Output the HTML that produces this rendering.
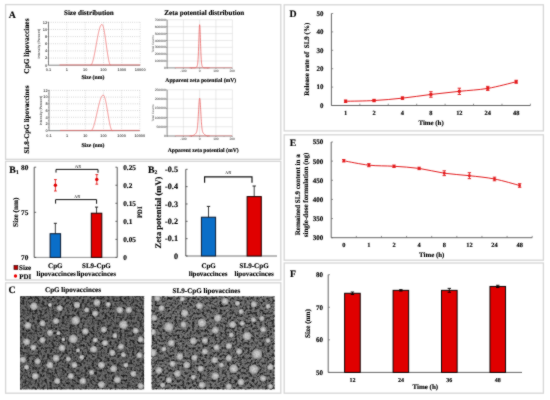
<!DOCTYPE html>
<html><head><meta charset="utf-8"><style>
html,body{margin:0;padding:0;background:#fff;}
body{width:550px;height:400px;overflow:hidden;}
svg{display:block;will-change:transform;text-rendering:geometricPrecision;}
</style></head><body>
<svg width="550" height="400" viewBox="0 0 550 400">
<defs><filter id="soften" filterUnits="userSpaceOnUse" x="0" y="0" width="550" height="400" color-interpolation-filters="sRGB"><feConvolveMatrix order="3" kernelMatrix="1 2 1 2 20 2 1 2 1" edgeMode="duplicate"/></filter></defs>
<g filter="url(#soften)">
<rect width="550" height="400" fill="#fff"/>
<defs><filter id="noiseA" color-interpolation-filters="sRGB" x="0" y="0" width="100%" height="100%"><feTurbulence type="fractalNoise" baseFrequency="0.4" numOctaves="3" seed="3"/><feColorMatrix type="matrix" values="0 0 0 0 0.1  0 0 0 0 0.1  0 0 0 0 0.1  -3.4 0 0 0 1.95"/></filter><filter id="noiseB" color-interpolation-filters="sRGB" x="0" y="0" width="100%" height="100%"><feTurbulence type="fractalNoise" baseFrequency="0.4" numOctaves="3" seed="11"/><feColorMatrix type="matrix" values="0 0 0 0 0.1  0 0 0 0 0.1  0 0 0 0 0.1  -3.4 0 0 0 1.95"/></filter><filter id="noise2" color-interpolation-filters="sRGB" x="0" y="0" width="100%" height="100%"><feTurbulence type="fractalNoise" baseFrequency="0.6" numOctaves="1" seed="7"/><feColorMatrix type="matrix" values="1.5 0 0 0 -0.4  1.5 0 0 0 -0.4  1.5 0 0 0 -0.4  0 0 0 0 1"/></filter><filter id="soft" x="-20%" y="-20%" width="140%" height="140%"><feGaussianBlur stdDeviation="0.35"/></filter><radialGradient id="blob"><stop offset="0" stop-color="#e2e2e2"/><stop offset="0.45" stop-color="#cfcfcf"/><stop offset="0.78" stop-color="#ababab" stop-opacity="0.88"/><stop offset="1" stop-color="#888" stop-opacity="0"/></radialGradient></defs>
<rect x="5.60" y="4.60" width="275.20" height="154.70" fill="none" stroke="#d6d6d6" stroke-width="1.3" />
<rect x="5.60" y="161.30" width="275.20" height="118.70" fill="none" stroke="#d6d6d6" stroke-width="1.3" />
<rect x="5.60" y="282.80" width="275.20" height="110.40" fill="none" stroke="#d6d6d6" stroke-width="1.3" />
<rect x="284.20" y="4.80" width="259.20" height="126.10" fill="none" stroke="#d6d6d6" stroke-width="1.3" />
<rect x="284.20" y="134.80" width="259.20" height="125.40" fill="none" stroke="#d6d6d6" stroke-width="1.3" />
<rect x="284.20" y="263.00" width="259.20" height="130.20" fill="none" stroke="#d6d6d6" stroke-width="1.3" />
<text x="8.80" y="17.60" font-family="'Liberation Serif', serif" font-size="9.8" font-weight="bold" text-anchor="start" fill="#000"  stroke="#000" stroke-width="0.14">A</text>
<text x="88.90" y="15.31" font-family="'Liberation Serif', serif" font-size="7.1" font-weight="bold" text-anchor="middle" fill="#000"  stroke="#000" stroke-width="0.14">Size distribution</text>
<text x="204.30" y="14.81" font-family="'Liberation Serif', serif" font-size="7.1" font-weight="bold" text-anchor="middle" fill="#000"  stroke="#000" stroke-width="0.14">Zeta potential distribution</text>
<text transform="translate(26.50,46.10) rotate(-90)" x="0" y="2.52" font-family="'Liberation Serif', serif" font-size="7.4" font-weight="bold" text-anchor="middle" fill="#000"  stroke="#000" stroke-width="0.14">CpG lipovaccines</text>
<text transform="translate(26.70,119.50) rotate(-90)" x="0" y="2.43" font-family="'Liberation Serif', serif" font-size="7.15" font-weight="bold" text-anchor="middle" fill="#000"  stroke="#000" stroke-width="0.14">SL8-CpG lipovaccines</text>
<line x1="66.84" y1="22.30" x2="66.84" y2="65.20" stroke="#c0c0c0" stroke-width="0.6" stroke-dasharray="0.9,1.3"/>
<line x1="85.18" y1="22.30" x2="85.18" y2="65.20" stroke="#c0c0c0" stroke-width="0.6" stroke-dasharray="0.9,1.3"/>
<line x1="103.52" y1="22.30" x2="103.52" y2="65.20" stroke="#c0c0c0" stroke-width="0.6" stroke-dasharray="0.9,1.3"/>
<line x1="121.86" y1="22.30" x2="121.86" y2="65.20" stroke="#c0c0c0" stroke-width="0.6" stroke-dasharray="0.9,1.3"/>
<line x1="140.20" y1="22.30" x2="140.20" y2="65.20" stroke="#c0c0c0" stroke-width="0.6" stroke-dasharray="0.9,1.3"/>
<line x1="48.50" y1="58.05" x2="140.20" y2="58.05" stroke="#b4b4b4" stroke-width="0.6" stroke-dasharray="0.9,1.3"/>
<line x1="48.50" y1="50.90" x2="140.20" y2="50.90" stroke="#b4b4b4" stroke-width="0.6" stroke-dasharray="0.9,1.3"/>
<line x1="48.50" y1="43.75" x2="140.20" y2="43.75" stroke="#b4b4b4" stroke-width="0.6" stroke-dasharray="0.9,1.3"/>
<line x1="48.50" y1="36.60" x2="140.20" y2="36.60" stroke="#b4b4b4" stroke-width="0.6" stroke-dasharray="0.9,1.3"/>
<line x1="48.50" y1="29.45" x2="140.20" y2="29.45" stroke="#b4b4b4" stroke-width="0.6" stroke-dasharray="0.9,1.3"/>
<line x1="48.50" y1="22.30" x2="140.20" y2="22.30" stroke="#b4b4b4" stroke-width="0.6" stroke-dasharray="0.9,1.3"/>
<line x1="48.50" y1="21.80" x2="48.50" y2="65.20" stroke="#666" stroke-width="0.8" />
<line x1="48.50" y1="65.20" x2="140.20" y2="65.20" stroke="#666" stroke-width="0.8" />
<line x1="47.30" y1="65.20" x2="48.50" y2="65.20" stroke="#666" stroke-width="0.5" />
<line x1="47.80" y1="61.62" x2="48.50" y2="61.62" stroke="#666" stroke-width="0.5" />
<line x1="47.30" y1="58.05" x2="48.50" y2="58.05" stroke="#666" stroke-width="0.5" />
<line x1="47.80" y1="54.48" x2="48.50" y2="54.48" stroke="#666" stroke-width="0.5" />
<line x1="47.30" y1="50.90" x2="48.50" y2="50.90" stroke="#666" stroke-width="0.5" />
<line x1="47.80" y1="47.33" x2="48.50" y2="47.33" stroke="#666" stroke-width="0.5" />
<line x1="47.30" y1="43.75" x2="48.50" y2="43.75" stroke="#666" stroke-width="0.5" />
<line x1="47.80" y1="40.17" x2="48.50" y2="40.17" stroke="#666" stroke-width="0.5" />
<line x1="47.30" y1="36.60" x2="48.50" y2="36.60" stroke="#666" stroke-width="0.5" />
<line x1="47.80" y1="33.02" x2="48.50" y2="33.02" stroke="#666" stroke-width="0.5" />
<line x1="47.30" y1="29.45" x2="48.50" y2="29.45" stroke="#666" stroke-width="0.5" />
<line x1="47.80" y1="25.87" x2="48.50" y2="25.87" stroke="#666" stroke-width="0.5" />
<line x1="47.30" y1="22.30" x2="48.50" y2="22.30" stroke="#666" stroke-width="0.5" />
<text x="47.20" y="66.53" font-family="'Liberation Sans', sans-serif" font-size="3.9" font-weight="bold" text-anchor="end" fill="#555" >0</text>
<text x="47.20" y="59.38" font-family="'Liberation Sans', sans-serif" font-size="3.9" font-weight="bold" text-anchor="end" fill="#555" >2</text>
<text x="47.20" y="52.23" font-family="'Liberation Sans', sans-serif" font-size="3.9" font-weight="bold" text-anchor="end" fill="#555" >4</text>
<text x="47.20" y="45.08" font-family="'Liberation Sans', sans-serif" font-size="3.9" font-weight="bold" text-anchor="end" fill="#555" >6</text>
<text x="47.20" y="37.93" font-family="'Liberation Sans', sans-serif" font-size="3.9" font-weight="bold" text-anchor="end" fill="#555" >8</text>
<text x="47.20" y="30.78" font-family="'Liberation Sans', sans-serif" font-size="3.9" font-weight="bold" text-anchor="end" fill="#555" >10</text>
<text x="47.20" y="23.63" font-family="'Liberation Sans', sans-serif" font-size="3.9" font-weight="bold" text-anchor="end" fill="#555" >12</text>
<text x="48.50" y="71.23" font-family="'Liberation Sans', sans-serif" font-size="3.9" font-weight="bold" text-anchor="middle" fill="#555" >0.1</text>
<text x="66.84" y="71.23" font-family="'Liberation Sans', sans-serif" font-size="3.9" font-weight="bold" text-anchor="middle" fill="#555" >1</text>
<text x="85.18" y="71.23" font-family="'Liberation Sans', sans-serif" font-size="3.9" font-weight="bold" text-anchor="middle" fill="#555" >10</text>
<text x="103.52" y="71.23" font-family="'Liberation Sans', sans-serif" font-size="3.9" font-weight="bold" text-anchor="middle" fill="#555" >100</text>
<text x="121.86" y="71.23" font-family="'Liberation Sans', sans-serif" font-size="3.9" font-weight="bold" text-anchor="middle" fill="#555" >1000</text>
<text x="140.20" y="71.23" font-family="'Liberation Sans', sans-serif" font-size="3.9" font-weight="bold" text-anchor="middle" fill="#555" >10000</text>
<line x1="59.50" y1="64.90" x2="140.20" y2="64.90" stroke="#ec6464" stroke-width="0.7" />
<path d="M90.50,65.20 L90.60,65.19 L90.70,65.17 L90.80,65.13 L90.90,65.08 L91.00,65.01 L91.10,64.92 L91.20,64.82 L91.30,64.71 L91.40,64.58 L91.50,64.43 L91.60,64.27 L91.70,64.10 L91.80,63.91 L91.90,63.70 L92.00,63.48 L92.10,63.25 L92.20,63.00 L92.30,62.74 L92.40,62.47 L92.50,62.18 L92.60,61.88 L92.70,61.57 L92.80,61.24 L92.90,60.90 L93.00,60.55 L93.10,60.19 L93.20,59.81 L93.30,59.43 L93.40,59.03 L93.50,58.62 L93.60,58.21 L93.70,57.78 L93.80,57.34 L93.90,56.89 L94.00,56.43 L94.10,55.97 L94.20,55.49 L94.30,55.01 L94.40,54.52 L94.50,54.02 L94.60,53.52 L94.70,53.01 L94.80,52.49 L94.90,51.97 L95.00,51.44 L95.10,50.91 L95.20,50.37 L95.30,49.82 L95.40,49.28 L95.50,48.73 L95.60,48.18 L95.70,47.62 L95.80,47.06 L95.90,46.51 L96.00,45.95 L96.10,45.38 L96.20,44.82 L96.30,44.26 L96.40,43.70 L96.50,43.14 L96.60,42.58 L96.70,42.02 L96.80,41.47 L96.90,40.92 L97.00,40.37 L97.10,39.82 L97.20,39.28 L97.30,38.74 L97.40,38.21 L97.50,37.68 L97.60,37.15 L97.70,36.64 L97.80,36.13 L97.90,35.62 L98.00,35.12 L98.10,34.63 L98.20,34.15 L98.30,33.68 L98.40,33.21 L98.50,32.75 L98.60,32.31 L98.70,31.87 L98.80,31.44 L98.90,31.02 L99.00,30.61 L99.10,30.22 L99.20,29.83 L99.30,29.46 L99.40,29.09 L99.50,28.74 L99.60,28.40 L99.70,28.08 L99.80,27.76 L99.90,27.46 L100.00,27.18 L100.10,26.90 L100.20,26.64 L100.30,26.39 L100.40,26.16 L100.50,25.94 L100.60,25.74 L100.70,25.55 L100.80,25.37 L100.90,25.21 L101.00,25.07 L101.10,24.94 L101.20,24.82 L101.30,24.72 L101.40,24.64 L101.50,24.57 L101.60,24.51 L101.70,24.48 L101.80,24.45 L101.90,24.44 L102.00,24.46 L102.10,24.50 L102.20,24.56 L102.30,24.65 L102.40,24.77 L102.50,24.91 L102.60,25.08 L102.70,25.27 L102.80,25.49 L102.90,25.73 L103.00,26.00 L103.10,26.29 L103.20,26.60 L103.30,26.94 L103.40,27.30 L103.50,27.68 L103.60,28.08 L103.70,28.51 L103.80,28.96 L103.90,29.42 L104.00,29.91 L104.10,30.41 L104.20,30.94 L104.30,31.48 L104.40,32.04 L104.50,32.61 L104.60,33.20 L104.70,33.81 L104.80,34.42 L104.90,35.06 L105.00,35.70 L105.10,36.36 L105.20,37.02 L105.30,37.70 L105.40,38.39 L105.50,39.08 L105.60,39.78 L105.70,40.49 L105.80,41.20 L105.90,41.92 L106.00,42.64 L106.10,43.37 L106.20,44.10 L106.30,44.82 L106.40,45.55 L106.50,46.28 L106.60,47.00 L106.70,47.72 L106.80,48.44 L106.90,49.15 L107.00,49.86 L107.10,50.56 L107.20,51.26 L107.30,51.94 L107.40,52.62 L107.50,53.29 L107.60,53.94 L107.70,54.59 L107.80,55.22 L107.90,55.84 L108.00,56.44 L108.10,57.03 L108.20,57.61 L108.30,58.17 L108.40,58.71 L108.50,59.23 L108.60,59.74 L108.70,60.22 L108.80,60.69 L108.90,61.14 L109.00,61.56 L109.10,61.97 L109.20,62.35 L109.30,62.71 L109.40,63.04 L109.50,63.36 L109.60,63.65 L109.70,63.92 L109.80,64.16 L109.90,64.37 L110.00,64.57 L110.10,64.73 L110.20,64.88 L110.30,64.99 L110.40,65.08 L110.50,65.15 L110.60,65.19 L110.70,65.20" stroke="#ee6a6a" stroke-width="0.75" fill="none" />
<text x="92.85" y="79.14" font-family="'Liberation Serif', serif" font-size="5.7" font-weight="bold" text-anchor="middle" fill="#000"  stroke="#000" stroke-width="0.14">Size (nm)</text>
<text transform="translate(38.90,43.75) rotate(-90)" x="0" y="1.16" font-family="'Liberation Sans', sans-serif" font-size="3.4" font-weight="bold" text-anchor="middle" fill="#555" >Intensity (Percent)</text>
<line x1="67.16" y1="90.40" x2="67.16" y2="130.70" stroke="#c0c0c0" stroke-width="0.6" stroke-dasharray="0.9,1.3"/>
<line x1="85.32" y1="90.40" x2="85.32" y2="130.70" stroke="#c0c0c0" stroke-width="0.6" stroke-dasharray="0.9,1.3"/>
<line x1="103.48" y1="90.40" x2="103.48" y2="130.70" stroke="#c0c0c0" stroke-width="0.6" stroke-dasharray="0.9,1.3"/>
<line x1="121.64" y1="90.40" x2="121.64" y2="130.70" stroke="#c0c0c0" stroke-width="0.6" stroke-dasharray="0.9,1.3"/>
<line x1="139.80" y1="90.40" x2="139.80" y2="130.70" stroke="#c0c0c0" stroke-width="0.6" stroke-dasharray="0.9,1.3"/>
<line x1="49.00" y1="123.98" x2="139.80" y2="123.98" stroke="#b4b4b4" stroke-width="0.6" stroke-dasharray="0.9,1.3"/>
<line x1="49.00" y1="117.27" x2="139.80" y2="117.27" stroke="#b4b4b4" stroke-width="0.6" stroke-dasharray="0.9,1.3"/>
<line x1="49.00" y1="110.55" x2="139.80" y2="110.55" stroke="#b4b4b4" stroke-width="0.6" stroke-dasharray="0.9,1.3"/>
<line x1="49.00" y1="103.83" x2="139.80" y2="103.83" stroke="#b4b4b4" stroke-width="0.6" stroke-dasharray="0.9,1.3"/>
<line x1="49.00" y1="97.12" x2="139.80" y2="97.12" stroke="#b4b4b4" stroke-width="0.6" stroke-dasharray="0.9,1.3"/>
<line x1="49.00" y1="90.40" x2="139.80" y2="90.40" stroke="#b4b4b4" stroke-width="0.6" stroke-dasharray="0.9,1.3"/>
<line x1="49.00" y1="89.90" x2="49.00" y2="130.70" stroke="#666" stroke-width="0.8" />
<line x1="49.00" y1="130.70" x2="139.80" y2="130.70" stroke="#666" stroke-width="0.8" />
<line x1="47.80" y1="130.70" x2="49.00" y2="130.70" stroke="#666" stroke-width="0.5" />
<line x1="48.30" y1="127.34" x2="49.00" y2="127.34" stroke="#666" stroke-width="0.5" />
<line x1="47.80" y1="123.98" x2="49.00" y2="123.98" stroke="#666" stroke-width="0.5" />
<line x1="48.30" y1="120.62" x2="49.00" y2="120.62" stroke="#666" stroke-width="0.5" />
<line x1="47.80" y1="117.27" x2="49.00" y2="117.27" stroke="#666" stroke-width="0.5" />
<line x1="48.30" y1="113.91" x2="49.00" y2="113.91" stroke="#666" stroke-width="0.5" />
<line x1="47.80" y1="110.55" x2="49.00" y2="110.55" stroke="#666" stroke-width="0.5" />
<line x1="48.30" y1="107.19" x2="49.00" y2="107.19" stroke="#666" stroke-width="0.5" />
<line x1="47.80" y1="103.83" x2="49.00" y2="103.83" stroke="#666" stroke-width="0.5" />
<line x1="48.30" y1="100.47" x2="49.00" y2="100.47" stroke="#666" stroke-width="0.5" />
<line x1="47.80" y1="97.12" x2="49.00" y2="97.12" stroke="#666" stroke-width="0.5" />
<line x1="48.30" y1="93.76" x2="49.00" y2="93.76" stroke="#666" stroke-width="0.5" />
<line x1="47.80" y1="90.40" x2="49.00" y2="90.40" stroke="#666" stroke-width="0.5" />
<text x="47.70" y="132.03" font-family="'Liberation Sans', sans-serif" font-size="3.9" font-weight="bold" text-anchor="end" fill="#555" >0</text>
<text x="47.70" y="125.31" font-family="'Liberation Sans', sans-serif" font-size="3.9" font-weight="bold" text-anchor="end" fill="#555" >2</text>
<text x="47.70" y="118.59" font-family="'Liberation Sans', sans-serif" font-size="3.9" font-weight="bold" text-anchor="end" fill="#555" >4</text>
<text x="47.70" y="111.88" font-family="'Liberation Sans', sans-serif" font-size="3.9" font-weight="bold" text-anchor="end" fill="#555" >6</text>
<text x="47.70" y="105.16" font-family="'Liberation Sans', sans-serif" font-size="3.9" font-weight="bold" text-anchor="end" fill="#555" >8</text>
<text x="47.70" y="98.44" font-family="'Liberation Sans', sans-serif" font-size="3.9" font-weight="bold" text-anchor="end" fill="#555" >10</text>
<text x="47.70" y="91.73" font-family="'Liberation Sans', sans-serif" font-size="3.9" font-weight="bold" text-anchor="end" fill="#555" >12</text>
<text x="49.00" y="137.23" font-family="'Liberation Sans', sans-serif" font-size="3.9" font-weight="bold" text-anchor="middle" fill="#555" >0.1</text>
<text x="67.16" y="137.23" font-family="'Liberation Sans', sans-serif" font-size="3.9" font-weight="bold" text-anchor="middle" fill="#555" >1</text>
<text x="85.32" y="137.23" font-family="'Liberation Sans', sans-serif" font-size="3.9" font-weight="bold" text-anchor="middle" fill="#555" >10</text>
<text x="103.48" y="137.23" font-family="'Liberation Sans', sans-serif" font-size="3.9" font-weight="bold" text-anchor="middle" fill="#555" >100</text>
<text x="121.64" y="137.23" font-family="'Liberation Sans', sans-serif" font-size="3.9" font-weight="bold" text-anchor="middle" fill="#555" >1000</text>
<text x="139.80" y="137.23" font-family="'Liberation Sans', sans-serif" font-size="3.9" font-weight="bold" text-anchor="middle" fill="#555" >10000</text>
<line x1="60.00" y1="130.40" x2="139.80" y2="130.40" stroke="#ec6464" stroke-width="0.7" />
<path d="M90.80,130.70 L90.90,130.69 L91.00,130.68 L91.10,130.65 L91.20,130.61 L91.30,130.56 L91.40,130.49 L91.50,130.42 L91.60,130.34 L91.70,130.24 L91.80,130.13 L91.90,130.01 L92.00,129.88 L92.10,129.74 L92.20,129.59 L92.30,129.43 L92.40,129.26 L92.50,129.07 L92.60,128.88 L92.70,128.68 L92.80,128.46 L92.90,128.24 L93.00,128.01 L93.10,127.76 L93.20,127.51 L93.30,127.25 L93.40,126.98 L93.50,126.70 L93.60,126.41 L93.70,126.11 L93.80,125.80 L93.90,125.49 L94.00,125.16 L94.10,124.83 L94.20,124.49 L94.30,124.15 L94.40,123.80 L94.50,123.44 L94.60,123.07 L94.70,122.70 L94.80,122.32 L94.90,121.93 L95.00,121.54 L95.10,121.14 L95.20,120.74 L95.30,120.33 L95.40,119.92 L95.50,119.50 L95.60,119.08 L95.70,118.66 L95.80,118.23 L95.90,117.80 L96.00,117.36 L96.10,116.92 L96.20,116.48 L96.30,116.04 L96.40,115.60 L96.50,115.15 L96.60,114.70 L96.70,114.25 L96.80,113.80 L96.90,113.35 L97.00,112.90 L97.10,112.45 L97.20,112.00 L97.30,111.55 L97.40,111.10 L97.50,110.65 L97.60,110.21 L97.70,109.76 L97.80,109.32 L97.90,108.88 L98.00,108.44 L98.10,108.00 L98.20,107.57 L98.30,107.14 L98.40,106.72 L98.50,106.30 L98.60,105.88 L98.70,105.47 L98.80,105.06 L98.90,104.66 L99.00,104.26 L99.10,103.87 L99.20,103.49 L99.30,103.11 L99.40,102.73 L99.50,102.37 L99.60,102.01 L99.70,101.65 L99.80,101.31 L99.90,100.97 L100.00,100.64 L100.10,100.31 L100.20,100.00 L100.30,99.69 L100.40,99.40 L100.50,99.11 L100.60,98.83 L100.70,98.55 L100.80,98.29 L100.90,98.04 L101.00,97.80 L101.10,97.56 L101.20,97.34 L101.30,97.12 L101.40,96.92 L101.50,96.73 L101.60,96.54 L101.70,96.37 L101.80,96.21 L101.90,96.06 L102.00,95.92 L102.10,95.79 L102.20,95.67 L102.30,95.56 L102.40,95.47 L102.50,95.38 L102.60,95.31 L102.70,95.24 L102.80,95.19 L102.90,95.15 L103.00,95.12 L103.10,95.11 L103.20,95.10 L103.30,95.11 L103.40,95.14 L103.50,95.19 L103.60,95.27 L103.70,95.36 L103.80,95.47 L103.90,95.61 L104.00,95.76 L104.10,95.94 L104.20,96.13 L104.30,96.34 L104.40,96.58 L104.50,96.83 L104.60,97.10 L104.70,97.39 L104.80,97.69 L104.90,98.02 L105.00,98.36 L105.10,98.72 L105.20,99.09 L105.30,99.49 L105.40,99.89 L105.50,100.31 L105.60,100.75 L105.70,101.20 L105.80,101.67 L105.90,102.15 L106.00,102.64 L106.10,103.14 L106.20,103.65 L106.30,104.18 L106.40,104.71 L106.50,105.26 L106.60,105.81 L106.70,106.37 L106.80,106.94 L106.90,107.52 L107.00,108.10 L107.10,108.69 L107.20,109.28 L107.30,109.88 L107.40,110.48 L107.50,111.08 L107.60,111.69 L107.70,112.29 L107.80,112.90 L107.90,113.51 L108.00,114.12 L108.10,114.72 L108.20,115.32 L108.30,115.93 L108.40,116.52 L108.50,117.12 L108.60,117.70 L108.70,118.29 L108.80,118.86 L108.90,119.43 L109.00,119.99 L109.10,120.55 L109.20,121.09 L109.30,121.62 L109.40,122.15 L109.50,122.66 L109.60,123.17 L109.70,123.66 L109.80,124.13 L109.90,124.60 L110.00,125.05 L110.10,125.49 L110.20,125.91 L110.30,126.32 L110.40,126.71 L110.50,127.08 L110.60,127.44 L110.70,127.78 L110.80,128.11 L110.90,128.42 L111.00,128.70 L111.10,128.97 L111.20,129.23 L111.30,129.46 L111.40,129.67 L111.50,129.87 L111.60,130.04 L111.70,130.19 L111.80,130.33 L111.90,130.44 L112.00,130.53 L112.10,130.61 L112.20,130.66 L112.30,130.69 L112.40,130.70" stroke="#ee6a6a" stroke-width="0.75" fill="none" />
<text x="92.90" y="147.34" font-family="'Liberation Serif', serif" font-size="5.7" font-weight="bold" text-anchor="middle" fill="#000"  stroke="#000" stroke-width="0.14">Size (nm)</text>
<text transform="translate(40.50,110.55) rotate(-90)" x="0" y="1.16" font-family="'Liberation Sans', sans-serif" font-size="3.4" font-weight="bold" text-anchor="middle" fill="#555" >Intensity (Percent)</text>
<rect x="167.10" y="19.90" width="65.10" height="48.00" fill="none" stroke="#d4d4d4" stroke-width="0.5" />
<line x1="183.38" y1="19.90" x2="183.38" y2="67.90" stroke="#d4d4d4" stroke-width="0.5" />
<line x1="199.65" y1="19.90" x2="199.65" y2="67.90" stroke="#d4d4d4" stroke-width="0.5" />
<line x1="215.92" y1="19.90" x2="215.92" y2="67.90" stroke="#d4d4d4" stroke-width="0.5" />
<line x1="167.10" y1="61.04" x2="232.20" y2="61.04" stroke="#d4d4d4" stroke-width="0.5" />
<line x1="167.10" y1="54.19" x2="232.20" y2="54.19" stroke="#d4d4d4" stroke-width="0.5" />
<line x1="167.10" y1="47.33" x2="232.20" y2="47.33" stroke="#d4d4d4" stroke-width="0.5" />
<line x1="167.10" y1="40.47" x2="232.20" y2="40.47" stroke="#d4d4d4" stroke-width="0.5" />
<line x1="167.10" y1="33.61" x2="232.20" y2="33.61" stroke="#d4d4d4" stroke-width="0.5" />
<line x1="167.10" y1="26.76" x2="232.20" y2="26.76" stroke="#d4d4d4" stroke-width="0.5" />
<line x1="167.10" y1="19.90" x2="167.10" y2="67.90" stroke="#555" stroke-width="0.6" />
<line x1="167.10" y1="67.90" x2="232.20" y2="67.90" stroke="#555" stroke-width="0.6" />
<line x1="165.90" y1="67.90" x2="167.10" y2="67.90" stroke="#555" stroke-width="0.5" />
<text x="165.80" y="69.04" font-family="'Liberation Sans', sans-serif" font-size="3.35" font-weight="normal" text-anchor="end" fill="#333" >0</text>
<line x1="165.90" y1="61.04" x2="167.10" y2="61.04" stroke="#555" stroke-width="0.5" />
<text x="165.80" y="62.18" font-family="'Liberation Sans', sans-serif" font-size="3.35" font-weight="normal" text-anchor="end" fill="#333" >100000</text>
<line x1="165.90" y1="54.19" x2="167.10" y2="54.19" stroke="#555" stroke-width="0.5" />
<text x="165.80" y="55.32" font-family="'Liberation Sans', sans-serif" font-size="3.35" font-weight="normal" text-anchor="end" fill="#333" >200000</text>
<line x1="165.90" y1="47.33" x2="167.10" y2="47.33" stroke="#555" stroke-width="0.5" />
<text x="165.80" y="48.47" font-family="'Liberation Sans', sans-serif" font-size="3.35" font-weight="normal" text-anchor="end" fill="#333" >300000</text>
<line x1="165.90" y1="40.47" x2="167.10" y2="40.47" stroke="#555" stroke-width="0.5" />
<text x="165.80" y="41.61" font-family="'Liberation Sans', sans-serif" font-size="3.35" font-weight="normal" text-anchor="end" fill="#333" >400000</text>
<line x1="165.90" y1="33.61" x2="167.10" y2="33.61" stroke="#555" stroke-width="0.5" />
<text x="165.80" y="34.75" font-family="'Liberation Sans', sans-serif" font-size="3.35" font-weight="normal" text-anchor="end" fill="#333" >500000</text>
<line x1="165.90" y1="26.76" x2="167.10" y2="26.76" stroke="#555" stroke-width="0.5" />
<text x="165.80" y="27.90" font-family="'Liberation Sans', sans-serif" font-size="3.35" font-weight="normal" text-anchor="end" fill="#333" >600000</text>
<line x1="165.90" y1="19.90" x2="167.10" y2="19.90" stroke="#555" stroke-width="0.5" />
<text x="165.80" y="21.04" font-family="'Liberation Sans', sans-serif" font-size="3.35" font-weight="normal" text-anchor="end" fill="#333" >700000</text>
<line x1="167.10" y1="67.90" x2="167.10" y2="68.90" stroke="#555" stroke-width="0.5" />
<line x1="175.24" y1="67.90" x2="175.24" y2="68.50" stroke="#555" stroke-width="0.5" />
<line x1="183.38" y1="67.90" x2="183.38" y2="68.90" stroke="#555" stroke-width="0.5" />
<line x1="191.51" y1="67.90" x2="191.51" y2="68.50" stroke="#555" stroke-width="0.5" />
<line x1="199.65" y1="67.90" x2="199.65" y2="68.90" stroke="#555" stroke-width="0.5" />
<line x1="207.79" y1="67.90" x2="207.79" y2="68.50" stroke="#555" stroke-width="0.5" />
<line x1="215.92" y1="67.90" x2="215.92" y2="68.90" stroke="#555" stroke-width="0.5" />
<line x1="224.06" y1="67.90" x2="224.06" y2="68.50" stroke="#555" stroke-width="0.5" />
<line x1="232.20" y1="67.90" x2="232.20" y2="68.90" stroke="#555" stroke-width="0.5" />
<text x="183.38" y="72.12" font-family="'Liberation Sans', sans-serif" font-size="3.3" font-weight="normal" text-anchor="middle" fill="#333" >-100</text>
<text x="199.65" y="72.12" font-family="'Liberation Sans', sans-serif" font-size="3.3" font-weight="normal" text-anchor="middle" fill="#333" >0</text>
<text x="215.92" y="72.12" font-family="'Liberation Sans', sans-serif" font-size="3.3" font-weight="normal" text-anchor="middle" fill="#333" >100</text>
<text x="232.20" y="72.12" font-family="'Liberation Sans', sans-serif" font-size="3.3" font-weight="normal" text-anchor="middle" fill="#333" >200</text>
<line x1="175.10" y1="67.60" x2="232.20" y2="67.60" stroke="#f09090" stroke-width="0.6" />
<path d="M189.65,67.90 L189.75,67.90 L189.85,67.90 L189.95,67.90 L190.05,67.90 L190.15,67.90 L190.25,67.90 L190.35,67.90 L190.45,67.90 L190.55,67.90 L190.65,67.90 L190.75,67.90 L190.85,67.90 L190.95,67.90 L191.05,67.90 L191.15,67.90 L191.25,67.90 L191.35,67.90 L191.45,67.90 L191.55,67.90 L191.65,67.90 L191.75,67.90 L191.85,67.90 L191.95,67.90 L192.05,67.90 L192.15,67.90 L192.25,67.90 L192.35,67.90 L192.45,67.90 L192.55,67.90 L192.65,67.90 L192.75,67.90 L192.85,67.90 L192.95,67.90 L193.05,67.90 L193.15,67.90 L193.25,67.90 L193.35,67.90 L193.45,67.90 L193.55,67.90 L193.65,67.90 L193.75,67.89 L193.85,67.89 L193.95,67.89 L194.05,67.89 L194.15,67.89 L194.25,67.88 L194.35,67.88 L194.45,67.87 L194.55,67.87 L194.65,67.86 L194.75,67.85 L194.85,67.84 L194.95,67.83 L195.05,67.82 L195.15,67.80 L195.25,67.78 L195.35,67.76 L195.45,67.73 L195.55,67.71 L195.65,67.67 L195.75,67.63 L195.85,67.59 L195.95,67.54 L196.05,67.49 L196.15,67.42 L196.25,67.35 L196.35,67.27 L196.45,67.19 L196.55,67.09 L196.65,66.97 L196.75,66.84 L196.85,66.70 L196.95,66.52 L197.05,66.32 L197.15,66.08 L197.25,65.79 L197.35,65.45 L197.45,65.02 L197.55,64.50 L197.65,63.86 L197.75,63.07 L197.85,62.12 L197.95,60.98 L198.05,59.61 L198.15,58.00 L198.25,56.14 L198.35,54.02 L198.45,51.64 L198.55,49.04 L198.65,46.23 L198.75,43.28 L198.85,40.27 L198.95,37.26 L199.05,34.37 L199.15,31.69 L199.25,29.33 L199.35,27.37 L199.45,25.91 L199.55,25.01 L199.65,24.70 L199.75,25.01 L199.85,25.91 L199.95,27.37 L200.05,29.33 L200.15,31.69 L200.25,34.37 L200.35,37.26 L200.45,40.27 L200.55,43.28 L200.65,46.23 L200.75,49.04 L200.85,51.64 L200.95,54.02 L201.05,56.14 L201.15,58.00 L201.25,59.61 L201.35,60.98 L201.45,62.12 L201.55,63.07 L201.65,63.86 L201.75,64.50 L201.85,65.02 L201.95,65.45 L202.05,65.79 L202.15,66.08 L202.25,66.32 L202.35,66.52 L202.45,66.70 L202.55,66.84 L202.65,66.97 L202.75,67.09 L202.85,67.19 L202.95,67.27 L203.05,67.35 L203.15,67.42 L203.25,67.49 L203.35,67.54 L203.45,67.59 L203.55,67.63 L203.65,67.67 L203.75,67.71 L203.85,67.73 L203.95,67.76 L204.05,67.78 L204.15,67.80 L204.25,67.82 L204.35,67.83 L204.45,67.84 L204.55,67.85 L204.65,67.86 L204.75,67.87 L204.85,67.87 L204.95,67.88 L205.05,67.88 L205.15,67.89 L205.25,67.89 L205.35,67.89 L205.45,67.89 L205.55,67.89 L205.65,67.90 L205.75,67.90 L205.85,67.90 L205.95,67.90 L206.05,67.90 L206.15,67.90 L206.25,67.90 L206.35,67.90 L206.45,67.90 L206.55,67.90 L206.65,67.90 L206.75,67.90 L206.85,67.90 L206.95,67.90 L207.05,67.90 L207.15,67.90 L207.25,67.90 L207.35,67.90 L207.45,67.90 L207.55,67.90 L207.65,67.90 L207.75,67.90 L207.85,67.90 L207.95,67.90 L208.05,67.90 L208.15,67.90 L208.25,67.90 L208.35,67.90 L208.45,67.90 L208.55,67.90 L208.65,67.90 L208.75,67.90 L208.85,67.90 L208.95,67.90 L209.05,67.90 L209.15,67.90 L209.25,67.90 L209.35,67.90 L209.45,67.90 L209.55,67.90 L209.65,67.90" stroke="#ec6464" stroke-width="0.8" fill="none" />
<text x="200.80" y="81.82" font-family="'Liberation Serif', serif" font-size="5.65" font-weight="bold" text-anchor="middle" fill="#000"  stroke="#000" stroke-width="0.14">Apparent zeta potential (mV)</text>
<text transform="translate(152.70,43.90) rotate(-90)" x="0" y="1.05" font-family="'Liberation Sans', sans-serif" font-size="3.1" font-weight="normal" text-anchor="middle" fill="#555" >Total Counts</text>
<rect x="167.10" y="89.90" width="65.10" height="46.10" fill="none" stroke="#d4d4d4" stroke-width="0.5" />
<line x1="183.38" y1="89.90" x2="183.38" y2="136.00" stroke="#d4d4d4" stroke-width="0.5" />
<line x1="199.65" y1="89.90" x2="199.65" y2="136.00" stroke="#d4d4d4" stroke-width="0.5" />
<line x1="215.92" y1="89.90" x2="215.92" y2="136.00" stroke="#d4d4d4" stroke-width="0.5" />
<line x1="167.10" y1="126.78" x2="232.20" y2="126.78" stroke="#d4d4d4" stroke-width="0.5" />
<line x1="167.10" y1="117.56" x2="232.20" y2="117.56" stroke="#d4d4d4" stroke-width="0.5" />
<line x1="167.10" y1="108.34" x2="232.20" y2="108.34" stroke="#d4d4d4" stroke-width="0.5" />
<line x1="167.10" y1="99.12" x2="232.20" y2="99.12" stroke="#d4d4d4" stroke-width="0.5" />
<line x1="167.10" y1="89.90" x2="167.10" y2="136.00" stroke="#555" stroke-width="0.6" />
<line x1="167.10" y1="136.00" x2="232.20" y2="136.00" stroke="#555" stroke-width="0.6" />
<line x1="165.90" y1="136.00" x2="167.10" y2="136.00" stroke="#555" stroke-width="0.5" />
<text x="165.80" y="137.14" font-family="'Liberation Sans', sans-serif" font-size="3.35" font-weight="normal" text-anchor="end" fill="#333" >0</text>
<line x1="165.90" y1="126.78" x2="167.10" y2="126.78" stroke="#555" stroke-width="0.5" />
<text x="165.80" y="127.92" font-family="'Liberation Sans', sans-serif" font-size="3.35" font-weight="normal" text-anchor="end" fill="#333" >50000</text>
<line x1="165.90" y1="117.56" x2="167.10" y2="117.56" stroke="#555" stroke-width="0.5" />
<text x="165.80" y="118.70" font-family="'Liberation Sans', sans-serif" font-size="3.35" font-weight="normal" text-anchor="end" fill="#333" >100000</text>
<line x1="165.90" y1="108.34" x2="167.10" y2="108.34" stroke="#555" stroke-width="0.5" />
<text x="165.80" y="109.48" font-family="'Liberation Sans', sans-serif" font-size="3.35" font-weight="normal" text-anchor="end" fill="#333" >150000</text>
<line x1="165.90" y1="99.12" x2="167.10" y2="99.12" stroke="#555" stroke-width="0.5" />
<text x="165.80" y="100.26" font-family="'Liberation Sans', sans-serif" font-size="3.35" font-weight="normal" text-anchor="end" fill="#333" >200000</text>
<line x1="165.90" y1="89.90" x2="167.10" y2="89.90" stroke="#555" stroke-width="0.5" />
<text x="165.80" y="91.04" font-family="'Liberation Sans', sans-serif" font-size="3.35" font-weight="normal" text-anchor="end" fill="#333" >250000</text>
<line x1="167.10" y1="136.00" x2="167.10" y2="137.00" stroke="#555" stroke-width="0.5" />
<line x1="175.24" y1="136.00" x2="175.24" y2="136.60" stroke="#555" stroke-width="0.5" />
<line x1="183.38" y1="136.00" x2="183.38" y2="137.00" stroke="#555" stroke-width="0.5" />
<line x1="191.51" y1="136.00" x2="191.51" y2="136.60" stroke="#555" stroke-width="0.5" />
<line x1="199.65" y1="136.00" x2="199.65" y2="137.00" stroke="#555" stroke-width="0.5" />
<line x1="207.79" y1="136.00" x2="207.79" y2="136.60" stroke="#555" stroke-width="0.5" />
<line x1="215.92" y1="136.00" x2="215.92" y2="137.00" stroke="#555" stroke-width="0.5" />
<line x1="224.06" y1="136.00" x2="224.06" y2="136.60" stroke="#555" stroke-width="0.5" />
<line x1="232.20" y1="136.00" x2="232.20" y2="137.00" stroke="#555" stroke-width="0.5" />
<text x="183.38" y="140.22" font-family="'Liberation Sans', sans-serif" font-size="3.3" font-weight="normal" text-anchor="middle" fill="#333" >-100</text>
<text x="199.65" y="140.22" font-family="'Liberation Sans', sans-serif" font-size="3.3" font-weight="normal" text-anchor="middle" fill="#333" >0</text>
<text x="215.92" y="140.22" font-family="'Liberation Sans', sans-serif" font-size="3.3" font-weight="normal" text-anchor="middle" fill="#333" >100</text>
<text x="232.20" y="140.22" font-family="'Liberation Sans', sans-serif" font-size="3.3" font-weight="normal" text-anchor="middle" fill="#333" >200</text>
<line x1="175.10" y1="135.70" x2="232.20" y2="135.70" stroke="#f09090" stroke-width="0.6" />
<path d="M189.65,135.98 L189.75,135.98 L189.85,135.97 L189.95,135.97 L190.05,135.97 L190.15,135.96 L190.25,135.96 L190.35,135.95 L190.45,135.95 L190.55,135.94 L190.65,135.94 L190.75,135.93 L190.85,135.92 L190.95,135.92 L191.05,135.91 L191.15,135.90 L191.25,135.89 L191.35,135.88 L191.45,135.86 L191.55,135.85 L191.65,135.84 L191.75,135.82 L191.85,135.81 L191.95,135.79 L192.05,135.77 L192.15,135.75 L192.25,135.73 L192.35,135.71 L192.45,135.68 L192.55,135.66 L192.65,135.63 L192.75,135.60 L192.85,135.57 L192.95,135.53 L193.05,135.50 L193.15,135.46 L193.25,135.42 L193.35,135.37 L193.45,135.33 L193.55,135.28 L193.65,135.23 L193.75,135.18 L193.85,135.13 L193.95,135.07 L194.05,135.01 L194.15,134.94 L194.25,134.88 L194.35,134.81 L194.45,134.74 L194.55,134.66 L194.65,134.59 L194.75,134.50 L194.85,134.42 L194.95,134.33 L195.05,134.24 L195.15,134.15 L195.25,134.06 L195.35,133.95 L195.45,133.85 L195.55,133.74 L195.65,133.63 L195.75,133.50 L195.85,133.38 L195.95,133.24 L196.05,133.09 L196.15,132.93 L196.25,132.75 L196.35,132.55 L196.45,132.32 L196.55,132.07 L196.65,131.78 L196.75,131.45 L196.85,131.07 L196.95,130.64 L197.05,130.14 L197.15,129.56 L197.25,128.91 L197.35,128.16 L197.45,127.32 L197.55,126.37 L197.65,125.31 L197.75,124.13 L197.85,122.84 L197.95,121.44 L198.05,119.93 L198.15,118.32 L198.25,116.62 L198.35,114.86 L198.45,113.04 L198.55,111.21 L198.65,109.38 L198.75,107.59 L198.85,105.86 L198.95,104.24 L199.05,102.75 L199.15,101.43 L199.25,100.30 L199.35,99.40 L199.45,98.74 L199.55,98.33 L199.65,98.20 L199.75,98.33 L199.85,98.74 L199.95,99.40 L200.05,100.30 L200.15,101.43 L200.25,102.75 L200.35,104.24 L200.45,105.86 L200.55,107.59 L200.65,109.38 L200.75,111.21 L200.85,113.04 L200.95,114.86 L201.05,116.62 L201.15,118.32 L201.25,119.93 L201.35,121.44 L201.45,122.84 L201.55,124.13 L201.65,125.31 L201.75,126.37 L201.85,127.32 L201.95,128.16 L202.05,128.91 L202.15,129.56 L202.25,130.14 L202.35,130.64 L202.45,131.07 L202.55,131.45 L202.65,131.78 L202.75,132.07 L202.85,132.32 L202.95,132.55 L203.05,132.75 L203.15,132.93 L203.25,133.09 L203.35,133.24 L203.45,133.38 L203.55,133.50 L203.65,133.63 L203.75,133.74 L203.85,133.85 L203.95,133.95 L204.05,134.06 L204.15,134.15 L204.25,134.24 L204.35,134.33 L204.45,134.42 L204.55,134.50 L204.65,134.59 L204.75,134.66 L204.85,134.74 L204.95,134.81 L205.05,134.88 L205.15,134.94 L205.25,135.01 L205.35,135.07 L205.45,135.13 L205.55,135.18 L205.65,135.23 L205.75,135.28 L205.85,135.33 L205.95,135.37 L206.05,135.42 L206.15,135.46 L206.25,135.50 L206.35,135.53 L206.45,135.57 L206.55,135.60 L206.65,135.63 L206.75,135.66 L206.85,135.68 L206.95,135.71 L207.05,135.73 L207.15,135.75 L207.25,135.77 L207.35,135.79 L207.45,135.81 L207.55,135.82 L207.65,135.84 L207.75,135.85 L207.85,135.86 L207.95,135.88 L208.05,135.89 L208.15,135.90 L208.25,135.91 L208.35,135.92 L208.45,135.92 L208.55,135.93 L208.65,135.94 L208.75,135.94 L208.85,135.95 L208.95,135.95 L209.05,135.96 L209.15,135.96 L209.25,135.97 L209.35,135.97 L209.45,135.97 L209.55,135.98 L209.65,135.98" stroke="#ec6464" stroke-width="0.8" fill="none" />
<text x="203.20" y="151.62" font-family="'Liberation Serif', serif" font-size="5.65" font-weight="bold" text-anchor="middle" fill="#000"  stroke="#000" stroke-width="0.14">Apparent zeta potential (mV)</text>
<text transform="translate(152.70,112.95) rotate(-90)" x="0" y="1.05" font-family="'Liberation Sans', sans-serif" font-size="3.1" font-weight="normal" text-anchor="middle" fill="#555" >Total Counts</text>
<text x="9.30" y="172.70" font-family="'Liberation Serif', serif" font-size="9.8" font-weight="bold" text-anchor="start" fill="#000"  stroke="#000" stroke-width="0.14">B</text>
<text x="16.00" y="174.30" font-family="'Liberation Serif', serif" font-size="5.6" font-weight="bold" text-anchor="start" fill="#000"  stroke="#000" stroke-width="0.14">1</text>
<line x1="34.20" y1="167.20" x2="34.20" y2="257.40" stroke="#444" stroke-width="0.9" />
<line x1="117.20" y1="167.20" x2="117.20" y2="257.40" stroke="#444" stroke-width="0.9" />
<line x1="34.20" y1="257.40" x2="117.20" y2="257.40" stroke="#888" stroke-width="0.9" />
<text x="28.40" y="169.68" font-family="'Liberation Serif', serif" font-size="7.3" font-weight="bold" text-anchor="end" fill="#000"  stroke="#000" stroke-width="0.14">80</text>
<line x1="34.20" y1="167.20" x2="36.20" y2="167.20" stroke="#444" stroke-width="0.8" />
<text x="28.40" y="214.78" font-family="'Liberation Serif', serif" font-size="7.3" font-weight="bold" text-anchor="end" fill="#000"  stroke="#000" stroke-width="0.14">75</text>
<line x1="34.20" y1="212.30" x2="36.20" y2="212.30" stroke="#444" stroke-width="0.8" />
<text x="28.40" y="259.88" font-family="'Liberation Serif', serif" font-size="7.3" font-weight="bold" text-anchor="end" fill="#000"  stroke="#000" stroke-width="0.14">70</text>
<line x1="34.20" y1="257.40" x2="36.20" y2="257.40" stroke="#444" stroke-width="0.8" />
<text x="123.20" y="259.88" font-family="'Liberation Serif', serif" font-size="7.3" font-weight="bold" text-anchor="start" fill="#000"  stroke="#000" stroke-width="0.14">0</text>
<line x1="115.40" y1="257.40" x2="117.20" y2="257.40" stroke="#444" stroke-width="0.8" />
<text x="123.20" y="241.84" font-family="'Liberation Serif', serif" font-size="7.3" font-weight="bold" text-anchor="start" fill="#000"  stroke="#000" stroke-width="0.14">0.05</text>
<line x1="115.40" y1="239.36" x2="117.20" y2="239.36" stroke="#444" stroke-width="0.8" />
<text x="123.20" y="223.80" font-family="'Liberation Serif', serif" font-size="7.3" font-weight="bold" text-anchor="start" fill="#000"  stroke="#000" stroke-width="0.14">0.1</text>
<line x1="115.40" y1="221.32" x2="117.20" y2="221.32" stroke="#444" stroke-width="0.8" />
<text x="123.20" y="205.76" font-family="'Liberation Serif', serif" font-size="7.3" font-weight="bold" text-anchor="start" fill="#000"  stroke="#000" stroke-width="0.14">0.15</text>
<line x1="115.40" y1="203.28" x2="117.20" y2="203.28" stroke="#444" stroke-width="0.8" />
<text x="123.20" y="187.72" font-family="'Liberation Serif', serif" font-size="7.3" font-weight="bold" text-anchor="start" fill="#000"  stroke="#000" stroke-width="0.14">0.2</text>
<line x1="115.40" y1="185.24" x2="117.20" y2="185.24" stroke="#444" stroke-width="0.8" />
<text x="123.20" y="169.68" font-family="'Liberation Serif', serif" font-size="7.3" font-weight="bold" text-anchor="start" fill="#000"  stroke="#000" stroke-width="0.14">0.25</text>
<line x1="115.40" y1="167.20" x2="117.20" y2="167.20" stroke="#444" stroke-width="0.8" />
<text transform="translate(15.90,212.20) rotate(-90)" x="0" y="2.48" font-family="'Liberation Serif', serif" font-size="7.3" font-weight="bold" text-anchor="middle" fill="#000"  stroke="#000" stroke-width="0.14">Size (nm)</text>
<text transform="translate(139.50,212.20) rotate(-90)" x="0" y="2.28" font-family="'Liberation Serif', serif" font-size="6.7" font-weight="bold" text-anchor="middle" fill="#000"  stroke="#000" stroke-width="0.14">PDI</text>
<rect x="50.10" y="233.70" width="10.50" height="23.70" fill="#0a6ec8" stroke="#0a1a30" stroke-width="1.0" />
<rect x="91.30" y="213.20" width="10.50" height="44.20" fill="#e00000" stroke="#200000" stroke-width="1.0" />
<line x1="55.35" y1="233.70" x2="55.35" y2="223.30" stroke="#111" stroke-width="0.8" />
<line x1="53.80" y1="223.30" x2="56.90" y2="223.30" stroke="#111" stroke-width="0.9" />
<line x1="96.55" y1="213.20" x2="96.55" y2="207.10" stroke="#111" stroke-width="0.8" />
<line x1="95.00" y1="207.10" x2="98.10" y2="207.10" stroke="#111" stroke-width="0.9" />
<line x1="55.40" y1="179.60" x2="55.40" y2="191.00" stroke="#e00000" stroke-width="0.8" />
<line x1="54.00" y1="179.60" x2="56.80" y2="179.60" stroke="#e00000" stroke-width="0.8" />
<line x1="54.00" y1="191.00" x2="56.80" y2="191.00" stroke="#e00000" stroke-width="0.8" />
<circle cx="55.4" cy="185.3" r="1.7" fill="#e00000"/>
<line x1="96.80" y1="174.60" x2="96.80" y2="184.20" stroke="#e00000" stroke-width="0.8" />
<line x1="95.40" y1="174.60" x2="98.20" y2="174.60" stroke="#e00000" stroke-width="0.8" />
<line x1="95.40" y1="184.20" x2="98.20" y2="184.20" stroke="#e00000" stroke-width="0.8" />
<circle cx="96.8" cy="179.4" r="1.7" fill="#e00000"/>
<path d="M56.0,172.6 L56.0,169.4 L98.0,169.4 L98.0,172.8" stroke="#111" stroke-width="1.0" fill="none" />
<text x="78.20" y="167.93" font-family="'Liberation Sans', sans-serif" font-size="4.2" font-weight="normal" text-anchor="middle" fill="#222" font-style="italic">NS</text>
<path d="M55.6,203.6 L55.6,199.6 L96.6,199.6 L96.6,203.8" stroke="#111" stroke-width="1.0" fill="none" />
<text x="77.50" y="197.93" font-family="'Liberation Sans', sans-serif" font-size="4.2" font-weight="normal" text-anchor="middle" fill="#222" font-style="italic">NS</text>
<text x="55.30" y="268.28" font-family="'Liberation Serif', serif" font-size="7" font-weight="bold" text-anchor="middle" fill="#000"  stroke="#000" stroke-width="0.14">CpG</text>
<text x="56.20" y="275.88" font-family="'Liberation Serif', serif" font-size="7" font-weight="bold" text-anchor="middle" fill="#000"  stroke="#000" stroke-width="0.14">lipovaccinces</text>
<text x="96.40" y="268.28" font-family="'Liberation Serif', serif" font-size="7" font-weight="bold" text-anchor="middle" fill="#000"  stroke="#000" stroke-width="0.14">SL9-CpG</text>
<text x="96.30" y="275.88" font-family="'Liberation Serif', serif" font-size="7" font-weight="bold" text-anchor="middle" fill="#000"  stroke="#000" stroke-width="0.14">lipovaccinces</text>
<rect x="14.00" y="265.60" width="3.80" height="3.80" fill="#c00000" stroke="#300" stroke-width="0.7" />
<text x="19.00" y="269.91" font-family="'Liberation Serif', serif" font-size="7.1" font-weight="bold" text-anchor="start" fill="#000"  stroke="#000" stroke-width="0.14">Size</text>
<circle cx="15.5" cy="276.0" r="1.7" fill="#ee0000"/>
<text x="19.20" y="278.68" font-family="'Liberation Serif', serif" font-size="7" font-weight="bold" text-anchor="start" fill="#000"  stroke="#000" stroke-width="0.14">PDI</text>
<text x="148.00" y="172.70" font-family="'Liberation Serif', serif" font-size="9.8" font-weight="bold" text-anchor="start" fill="#000"  stroke="#000" stroke-width="0.14">B</text>
<text x="154.50" y="174.30" font-family="'Liberation Serif', serif" font-size="5.6" font-weight="bold" text-anchor="start" fill="#000"  stroke="#000" stroke-width="0.14">2</text>
<line x1="185.80" y1="169.30" x2="185.80" y2="256.00" stroke="#444" stroke-width="0.9" />
<line x1="185.80" y1="256.00" x2="277.00" y2="256.00" stroke="#666" stroke-width="0.9" />
<text x="178.00" y="258.79" font-family="'Liberation Serif', serif" font-size="8.2" font-weight="bold" text-anchor="end" fill="#000"  stroke="#000" stroke-width="0.14">0</text>
<line x1="185.80" y1="256.00" x2="187.60" y2="256.00" stroke="#444" stroke-width="0.8" />
<text x="178.00" y="241.45" font-family="'Liberation Serif', serif" font-size="8.2" font-weight="bold" text-anchor="end" fill="#000"  stroke="#000" stroke-width="0.14">-0.1</text>
<line x1="185.80" y1="238.66" x2="187.60" y2="238.66" stroke="#444" stroke-width="0.8" />
<text x="178.00" y="224.11" font-family="'Liberation Serif', serif" font-size="8.2" font-weight="bold" text-anchor="end" fill="#000"  stroke="#000" stroke-width="0.14">-0.2</text>
<line x1="185.80" y1="221.32" x2="187.60" y2="221.32" stroke="#444" stroke-width="0.8" />
<text x="178.00" y="206.77" font-family="'Liberation Serif', serif" font-size="8.2" font-weight="bold" text-anchor="end" fill="#000"  stroke="#000" stroke-width="0.14">-0.3</text>
<line x1="185.80" y1="203.98" x2="187.60" y2="203.98" stroke="#444" stroke-width="0.8" />
<text x="178.00" y="189.43" font-family="'Liberation Serif', serif" font-size="8.2" font-weight="bold" text-anchor="end" fill="#000"  stroke="#000" stroke-width="0.14">-0.4</text>
<line x1="185.80" y1="186.64" x2="187.60" y2="186.64" stroke="#444" stroke-width="0.8" />
<text x="178.00" y="172.09" font-family="'Liberation Serif', serif" font-size="8.2" font-weight="bold" text-anchor="end" fill="#000"  stroke="#000" stroke-width="0.14">-0.5</text>
<line x1="185.80" y1="169.30" x2="187.60" y2="169.30" stroke="#444" stroke-width="0.8" />
<text transform="translate(158.20,212.50) rotate(-90)" x="0" y="2.89" font-family="'Liberation Serif', serif" font-size="8.5" font-weight="bold" text-anchor="middle" fill="#000"  stroke="#000" stroke-width="0.14">Zeta potential (mV)</text>
<rect x="201.40" y="217.20" width="14.20" height="38.80" fill="#0a6ec8" stroke="#0a1a30" stroke-width="1.0" />
<rect x="247.10" y="196.60" width="14.20" height="59.40" fill="#e00000" stroke="#200000" stroke-width="1.0" />
<line x1="208.50" y1="217.20" x2="208.50" y2="206.40" stroke="#111" stroke-width="0.8" />
<line x1="206.80" y1="206.40" x2="210.20" y2="206.40" stroke="#111" stroke-width="0.9" />
<line x1="254.20" y1="196.60" x2="254.20" y2="186.00" stroke="#111" stroke-width="0.8" />
<line x1="252.50" y1="186.00" x2="255.90" y2="186.00" stroke="#111" stroke-width="0.9" />
<path d="M204.6,182.8 L204.6,176.9 L252.0,176.9 L252.0,182.8" stroke="#111" stroke-width="1.15" fill="none" />
<text x="228.40" y="174.03" font-family="'Liberation Sans', sans-serif" font-size="4.2" font-weight="normal" text-anchor="middle" fill="#222" font-style="italic">NS</text>
<text x="208.60" y="267.68" font-family="'Liberation Serif', serif" font-size="7" font-weight="bold" text-anchor="middle" fill="#000"  stroke="#000" stroke-width="0.14">CpG</text>
<text x="208.10" y="275.55" font-family="'Liberation Serif', serif" font-size="6.9" font-weight="bold" text-anchor="middle" fill="#000"  stroke="#000" stroke-width="0.14">lipovaccinces</text>
<text x="254.10" y="267.71" font-family="'Liberation Serif', serif" font-size="7.1" font-weight="bold" text-anchor="middle" fill="#000"  stroke="#000" stroke-width="0.14">SL9-CpG</text>
<text x="254.10" y="275.58" font-family="'Liberation Serif', serif" font-size="7.0" font-weight="bold" text-anchor="middle" fill="#000"  stroke="#000" stroke-width="0.14">lipovaccinces</text>
<text x="8.40" y="293.20" font-family="'Liberation Serif', serif" font-size="9.8" font-weight="bold" text-anchor="start" fill="#000"  stroke="#000" stroke-width="0.14">C</text>
<text x="73.00" y="292.20" font-family="'Liberation Serif', serif" font-size="7.05" font-weight="bold" text-anchor="middle" fill="#000"  stroke="#000" stroke-width="0.14">CpG lipovaccinces</text>
<text x="206.40" y="292.51" font-family="'Liberation Serif', serif" font-size="7.1" font-weight="bold" text-anchor="middle" fill="#000"  stroke="#000" stroke-width="0.14">SL9-CpG lipovaccines</text>
<clipPath id="ca"><rect x="20.0" y="296.0" width="124.20" height="93.60"/></clipPath>
<g clip-path="url(#ca)">
<rect x="20.00" y="296.00" width="124.20" height="93.60" fill="#6a6a6a" stroke="none" stroke-width="1" />
<rect x="20.00" y="296.00" width="124.20" height="93.60" fill="#000" stroke="none" stroke-width="1" filter="url(#noiseA)"/>
<circle cx="33.9" cy="306.3" r="4.37" fill="url(#blob)"/>
<circle cx="59.7" cy="308.2" r="3.54" fill="url(#blob)"/>
<circle cx="76.9" cy="305" r="3.78" fill="url(#blob)"/>
<circle cx="97" cy="302.6" r="4.01" fill="url(#blob)"/>
<circle cx="108.2" cy="304.3" r="2.95" fill="url(#blob)"/>
<circle cx="119.8" cy="310" r="4.01" fill="url(#blob)"/>
<circle cx="128.8" cy="310" r="3.78" fill="url(#blob)"/>
<circle cx="86.7" cy="310" r="2.95" fill="url(#blob)"/>
<circle cx="95.2" cy="313.6" r="3.54" fill="url(#blob)"/>
<circle cx="49.9" cy="305" r="2.36" fill="url(#blob)"/>
<circle cx="42.5" cy="323.4" r="3.54" fill="url(#blob)"/>
<circle cx="27.8" cy="325.4" r="4.01" fill="url(#blob)"/>
<circle cx="56" cy="321" r="3.54" fill="url(#blob)"/>
<circle cx="75.6" cy="320.5" r="4.96" fill="url(#blob)"/>
<circle cx="103.8" cy="329.6" r="3.54" fill="url(#blob)"/>
<circle cx="123.4" cy="324.7" r="4.96" fill="url(#blob)"/>
<circle cx="135.7" cy="330.8" r="3.54" fill="url(#blob)"/>
<circle cx="85.4" cy="331.3" r="3.78" fill="url(#blob)"/>
<circle cx="49.9" cy="332.7" r="3.54" fill="url(#blob)"/>
<circle cx="58.5" cy="333.2" r="2.36" fill="url(#blob)"/>
<circle cx="114.9" cy="335.7" r="2.95" fill="url(#blob)"/>
<circle cx="73.2" cy="338.9" r="4.96" fill="url(#blob)"/>
<circle cx="42.5" cy="340.1" r="3.54" fill="url(#blob)"/>
<circle cx="26.6" cy="341.8" r="4.01" fill="url(#blob)"/>
<circle cx="63.4" cy="339.4" r="2.12" fill="url(#blob)"/>
<circle cx="95.2" cy="340.1" r="2.95" fill="url(#blob)"/>
<circle cx="105" cy="343" r="3.54" fill="url(#blob)"/>
<circle cx="140.6" cy="339.4" r="3.54" fill="url(#blob)"/>
<circle cx="33.4" cy="347.5" r="3.54" fill="url(#blob)"/>
<circle cx="62.1" cy="348" r="4.01" fill="url(#blob)"/>
<circle cx="93.5" cy="349.2" r="4.01" fill="url(#blob)"/>
<circle cx="121" cy="346.7" r="3.54" fill="url(#blob)"/>
<circle cx="112.4" cy="352.9" r="3.54" fill="url(#blob)"/>
<circle cx="123.4" cy="354.8" r="2.95" fill="url(#blob)"/>
<circle cx="139.4" cy="355.3" r="3.54" fill="url(#blob)"/>
<circle cx="78" cy="350.4" r="2.36" fill="url(#blob)"/>
<circle cx="56" cy="358.2" r="4.01" fill="url(#blob)"/>
<circle cx="68.3" cy="359" r="2.95" fill="url(#blob)"/>
<circle cx="81.8" cy="357.3" r="2.95" fill="url(#blob)"/>
<circle cx="22.9" cy="359.7" r="3.54" fill="url(#blob)"/>
<circle cx="37.6" cy="361.4" r="3.54" fill="url(#blob)"/>
<circle cx="49.9" cy="365.1" r="4.01" fill="url(#blob)"/>
<circle cx="74.4" cy="365.1" r="3.54" fill="url(#blob)"/>
<circle cx="101.4" cy="365.1" r="4.01" fill="url(#blob)"/>
<circle cx="113.6" cy="368.8" r="4.01" fill="url(#blob)"/>
<circle cx="125.9" cy="365.1" r="2.95" fill="url(#blob)"/>
<circle cx="26.6" cy="367.1" r="2.95" fill="url(#blob)"/>
<circle cx="35.2" cy="376.1" r="4.01" fill="url(#blob)"/>
<circle cx="57.2" cy="381" r="3.54" fill="url(#blob)"/>
<circle cx="70.7" cy="376.1" r="3.54" fill="url(#blob)"/>
<circle cx="83" cy="381" r="4.01" fill="url(#blob)"/>
<circle cx="101.4" cy="384.7" r="4.01" fill="url(#blob)"/>
<circle cx="117.3" cy="379.8" r="4.01" fill="url(#blob)"/>
<circle cx="133.3" cy="373.7" r="3.54" fill="url(#blob)"/>
<circle cx="140.6" cy="386" r="3.54" fill="url(#blob)"/>
<circle cx="91.6" cy="372.5" r="2.95" fill="url(#blob)"/>
<rect x="20.00" y="296.00" width="124.20" height="93.60" fill="#000" stroke="none" stroke-width="1" filter="url(#noise2)" opacity="0.16"/>
</g>
<clipPath id="cb"><rect x="151.4" y="296.2" width="123.30" height="93.30"/></clipPath>
<g clip-path="url(#cb)">
<rect x="151.40" y="296.20" width="123.30" height="93.30" fill="#787878" stroke="none" stroke-width="1" />
<rect x="151.40" y="296.20" width="123.30" height="93.30" fill="#000" stroke="none" stroke-width="1" filter="url(#noiseB)"/>
<circle cx="157.3" cy="298.4" r="3.54" fill="url(#blob)"/>
<circle cx="182.3" cy="298.9" r="2.95" fill="url(#blob)"/>
<circle cx="199.4" cy="305.8" r="4.01" fill="url(#blob)"/>
<circle cx="225.1" cy="301.3" r="4.01" fill="url(#blob)"/>
<circle cx="237.4" cy="303.3" r="2.95" fill="url(#blob)"/>
<circle cx="253.8" cy="304.3" r="3.54" fill="url(#blob)"/>
<circle cx="268" cy="306.2" r="2.95" fill="url(#blob)"/>
<circle cx="161.5" cy="308.2" r="3.54" fill="url(#blob)"/>
<circle cx="184.7" cy="313.1" r="4.37" fill="url(#blob)"/>
<circle cx="154.1" cy="318" r="3.54" fill="url(#blob)"/>
<circle cx="217.8" cy="318" r="4.37" fill="url(#blob)"/>
<circle cx="241" cy="311.6" r="2.95" fill="url(#blob)"/>
<circle cx="261.8" cy="318.5" r="2.95" fill="url(#blob)"/>
<circle cx="201.9" cy="322.9" r="4.96" fill="url(#blob)"/>
<circle cx="168.8" cy="327" r="5.43" fill="url(#blob)"/>
<circle cx="183.5" cy="324.6" r="3.54" fill="url(#blob)"/>
<circle cx="232.5" cy="324.6" r="4.01" fill="url(#blob)"/>
<circle cx="242.2" cy="323.4" r="2.95" fill="url(#blob)"/>
<circle cx="253.3" cy="319.7" r="2.95" fill="url(#blob)"/>
<circle cx="215.3" cy="330.2" r="4.01" fill="url(#blob)"/>
<circle cx="152.9" cy="332" r="3.54" fill="url(#blob)"/>
<circle cx="263" cy="329.5" r="3.54" fill="url(#blob)"/>
<circle cx="247.1" cy="336.1" r="4.96" fill="url(#blob)"/>
<circle cx="231.2" cy="335.1" r="2.95" fill="url(#blob)"/>
<circle cx="171.3" cy="343" r="4.01" fill="url(#blob)"/>
<circle cx="193.3" cy="341" r="4.01" fill="url(#blob)"/>
<circle cx="204.8" cy="340.5" r="3.54" fill="url(#blob)"/>
<circle cx="216.5" cy="347.4" r="3.54" fill="url(#blob)"/>
<circle cx="228.8" cy="345.9" r="3.78" fill="url(#blob)"/>
<circle cx="268" cy="340.5" r="2.95" fill="url(#blob)"/>
<circle cx="163.9" cy="349.1" r="2.95" fill="url(#blob)"/>
<circle cx="152.9" cy="352.8" r="4.37" fill="url(#blob)"/>
<circle cx="204.8" cy="351.5" r="3.54" fill="url(#blob)"/>
<circle cx="239.1" cy="351.5" r="3.54" fill="url(#blob)"/>
<circle cx="256.9" cy="354" r="5.78" fill="url(#blob)"/>
<circle cx="179.8" cy="356.4" r="4.01" fill="url(#blob)"/>
<circle cx="194.5" cy="357.6" r="3.54" fill="url(#blob)"/>
<circle cx="214.6" cy="360.1" r="3.78" fill="url(#blob)"/>
<circle cx="228.8" cy="358.1" r="3.54" fill="url(#blob)"/>
<circle cx="172.5" cy="363.8" r="3.54" fill="url(#blob)"/>
<circle cx="186.7" cy="365" r="4.01" fill="url(#blob)"/>
<circle cx="221.4" cy="365" r="2.95" fill="url(#blob)"/>
<circle cx="233.7" cy="368.7" r="4.96" fill="url(#blob)"/>
<circle cx="253.8" cy="369.4" r="5.43" fill="url(#blob)"/>
<circle cx="270.4" cy="367" r="3.54" fill="url(#blob)"/>
<circle cx="159" cy="370.4" r="4.01" fill="url(#blob)"/>
<circle cx="200.6" cy="368.7" r="3.54" fill="url(#blob)"/>
<circle cx="177.4" cy="373.6" r="4.01" fill="url(#blob)"/>
<circle cx="215.3" cy="376" r="4.37" fill="url(#blob)"/>
<circle cx="168.8" cy="380.2" r="3.54" fill="url(#blob)"/>
<circle cx="193.3" cy="377.2" r="2.95" fill="url(#blob)"/>
<circle cx="241" cy="382.1" r="4.01" fill="url(#blob)"/>
<circle cx="263" cy="378.5" r="3.54" fill="url(#blob)"/>
<circle cx="201.9" cy="385.1" r="4.01" fill="url(#blob)"/>
<circle cx="228.8" cy="386.5" r="3.54" fill="url(#blob)"/>
<circle cx="162.7" cy="385.1" r="2.95" fill="url(#blob)"/>
<circle cx="270.4" cy="386.5" r="2.95" fill="url(#blob)"/>
<rect x="151.40" y="296.20" width="123.30" height="93.30" fill="#000" stroke="none" stroke-width="1" filter="url(#noise2)" opacity="0.16"/>
</g>
<text x="289.60" y="16.60" font-family="'Liberation Serif', serif" font-size="9.8" font-weight="bold" text-anchor="start" fill="#000"  stroke="#000" stroke-width="0.14">D</text>
<line x1="331.40" y1="13.50" x2="331.40" y2="105.50" stroke="#666" stroke-width="1.0" />
<line x1="331.40" y1="105.50" x2="530.40" y2="105.50" stroke="#666" stroke-width="1.0" />
<text x="323.50" y="107.88" font-family="'Liberation Serif', serif" font-size="7.0" font-weight="bold" text-anchor="end" fill="#000"  stroke="#000" stroke-width="0.14">0</text>
<line x1="331.40" y1="105.50" x2="333.20" y2="105.50" stroke="#666" stroke-width="0.7" />
<text x="323.50" y="89.48" font-family="'Liberation Serif', serif" font-size="7.0" font-weight="bold" text-anchor="end" fill="#000"  stroke="#000" stroke-width="0.14">10</text>
<line x1="331.40" y1="87.10" x2="333.20" y2="87.10" stroke="#666" stroke-width="0.7" />
<text x="323.50" y="71.08" font-family="'Liberation Serif', serif" font-size="7.0" font-weight="bold" text-anchor="end" fill="#000"  stroke="#000" stroke-width="0.14">20</text>
<line x1="331.40" y1="68.70" x2="333.20" y2="68.70" stroke="#666" stroke-width="0.7" />
<text x="323.50" y="52.68" font-family="'Liberation Serif', serif" font-size="7.0" font-weight="bold" text-anchor="end" fill="#000"  stroke="#000" stroke-width="0.14">30</text>
<line x1="331.40" y1="50.30" x2="333.20" y2="50.30" stroke="#666" stroke-width="0.7" />
<text x="323.50" y="34.28" font-family="'Liberation Serif', serif" font-size="7.0" font-weight="bold" text-anchor="end" fill="#000"  stroke="#000" stroke-width="0.14">40</text>
<line x1="331.40" y1="31.90" x2="333.20" y2="31.90" stroke="#666" stroke-width="0.7" />
<text x="323.50" y="15.88" font-family="'Liberation Serif', serif" font-size="7.0" font-weight="bold" text-anchor="end" fill="#000"  stroke="#000" stroke-width="0.14">50</text>
<line x1="331.40" y1="13.50" x2="333.20" y2="13.50" stroke="#666" stroke-width="0.7" />
<line x1="359.83" y1="105.50" x2="359.83" y2="103.70" stroke="#666" stroke-width="0.7" />
<line x1="388.26" y1="105.50" x2="388.26" y2="103.70" stroke="#666" stroke-width="0.7" />
<line x1="416.69" y1="105.50" x2="416.69" y2="103.70" stroke="#666" stroke-width="0.7" />
<line x1="445.11" y1="105.50" x2="445.11" y2="103.70" stroke="#666" stroke-width="0.7" />
<line x1="473.54" y1="105.50" x2="473.54" y2="103.70" stroke="#666" stroke-width="0.7" />
<line x1="501.97" y1="105.50" x2="501.97" y2="103.70" stroke="#666" stroke-width="0.7" />
<line x1="530.40" y1="105.50" x2="530.40" y2="103.70" stroke="#666" stroke-width="0.7" />
<text x="345.61" y="114.98" font-family="'Liberation Serif', serif" font-size="6.4" font-weight="bold" text-anchor="middle" fill="#000"  stroke="#000" stroke-width="0.14">1</text>
<text x="374.04" y="114.98" font-family="'Liberation Serif', serif" font-size="6.4" font-weight="bold" text-anchor="middle" fill="#000"  stroke="#000" stroke-width="0.14">2</text>
<text x="402.47" y="114.98" font-family="'Liberation Serif', serif" font-size="6.4" font-weight="bold" text-anchor="middle" fill="#000"  stroke="#000" stroke-width="0.14">4</text>
<text x="430.90" y="114.98" font-family="'Liberation Serif', serif" font-size="6.4" font-weight="bold" text-anchor="middle" fill="#000"  stroke="#000" stroke-width="0.14">8</text>
<text x="459.33" y="114.98" font-family="'Liberation Serif', serif" font-size="6.4" font-weight="bold" text-anchor="middle" fill="#000"  stroke="#000" stroke-width="0.14">12</text>
<text x="487.76" y="114.98" font-family="'Liberation Serif', serif" font-size="6.4" font-weight="bold" text-anchor="middle" fill="#000"  stroke="#000" stroke-width="0.14">24</text>
<text x="516.19" y="114.98" font-family="'Liberation Serif', serif" font-size="6.4" font-weight="bold" text-anchor="middle" fill="#000"  stroke="#000" stroke-width="0.14">48</text>
<path d="M345.61,101.27 C350.35,101.15 364.57,101.05 374.04,100.53 C383.52,100.01 393.00,99.15 402.47,98.14 C411.95,97.13 421.42,95.59 430.90,94.46 C440.38,93.33 449.85,92.34 459.33,91.33 C468.80,90.32 478.28,89.98 487.76,88.39 C497.23,86.79 511.45,82.87 516.19,81.76" stroke="#e31a1c" stroke-width="1.0" fill="none" />
<line x1="345.61" y1="100.07" x2="345.61" y2="102.47" stroke="#e31a1c" stroke-width="0.9" />
<line x1="343.91" y1="100.07" x2="347.31" y2="100.07" stroke="#e31a1c" stroke-width="0.95" />
<line x1="343.91" y1="102.47" x2="347.31" y2="102.47" stroke="#e31a1c" stroke-width="0.95" />
<rect x="344.16" y="99.82" width="2.90" height="2.90" fill="#e31a1c" stroke="none" stroke-width="1" />
<line x1="374.04" y1="99.33" x2="374.04" y2="101.73" stroke="#e31a1c" stroke-width="0.9" />
<line x1="372.34" y1="99.33" x2="375.74" y2="99.33" stroke="#e31a1c" stroke-width="0.95" />
<line x1="372.34" y1="101.73" x2="375.74" y2="101.73" stroke="#e31a1c" stroke-width="0.95" />
<rect x="372.59" y="99.08" width="2.90" height="2.90" fill="#e31a1c" stroke="none" stroke-width="1" />
<line x1="402.47" y1="96.94" x2="402.47" y2="99.34" stroke="#e31a1c" stroke-width="0.9" />
<line x1="400.77" y1="96.94" x2="404.17" y2="96.94" stroke="#e31a1c" stroke-width="0.95" />
<line x1="400.77" y1="99.34" x2="404.17" y2="99.34" stroke="#e31a1c" stroke-width="0.95" />
<rect x="401.02" y="96.69" width="2.90" height="2.90" fill="#e31a1c" stroke="none" stroke-width="1" />
<line x1="430.90" y1="91.70" x2="430.90" y2="97.22" stroke="#e31a1c" stroke-width="0.9" />
<line x1="429.20" y1="91.70" x2="432.60" y2="91.70" stroke="#e31a1c" stroke-width="0.95" />
<line x1="429.20" y1="97.22" x2="432.60" y2="97.22" stroke="#e31a1c" stroke-width="0.95" />
<rect x="429.45" y="93.01" width="2.90" height="2.90" fill="#e31a1c" stroke="none" stroke-width="1" />
<line x1="459.33" y1="88.20" x2="459.33" y2="94.46" stroke="#e31a1c" stroke-width="0.9" />
<line x1="457.63" y1="88.20" x2="461.03" y2="88.20" stroke="#e31a1c" stroke-width="0.95" />
<line x1="457.63" y1="94.46" x2="461.03" y2="94.46" stroke="#e31a1c" stroke-width="0.95" />
<rect x="457.88" y="89.88" width="2.90" height="2.90" fill="#e31a1c" stroke="none" stroke-width="1" />
<line x1="487.76" y1="86.36" x2="487.76" y2="90.41" stroke="#e31a1c" stroke-width="0.9" />
<line x1="486.06" y1="86.36" x2="489.46" y2="86.36" stroke="#e31a1c" stroke-width="0.95" />
<line x1="486.06" y1="90.41" x2="489.46" y2="90.41" stroke="#e31a1c" stroke-width="0.95" />
<rect x="486.31" y="86.94" width="2.90" height="2.90" fill="#e31a1c" stroke="none" stroke-width="1" />
<line x1="516.19" y1="80.29" x2="516.19" y2="83.24" stroke="#e31a1c" stroke-width="0.9" />
<line x1="514.49" y1="80.29" x2="517.89" y2="80.29" stroke="#e31a1c" stroke-width="0.95" />
<line x1="514.49" y1="83.24" x2="517.89" y2="83.24" stroke="#e31a1c" stroke-width="0.95" />
<rect x="514.74" y="80.31" width="2.90" height="2.90" fill="#e31a1c" stroke="none" stroke-width="1" />
<text x="431.10" y="125.45" font-family="'Liberation Serif', serif" font-size="6.9" font-weight="bold" text-anchor="middle" fill="#000"  stroke="#000" stroke-width="0.14">Time (h)</text>
<text transform="translate(306.40,59.20) rotate(-90)" x="0" y="2.38" font-family="'Liberation Serif', serif" font-size="7.0" font-weight="bold" text-anchor="middle" fill="#000"  stroke="#000" stroke-width="0.14">Release rate of&#160; SL9 (%)</text>
<text x="289.80" y="145.60" font-family="'Liberation Serif', serif" font-size="9.8" font-weight="bold" text-anchor="start" fill="#000"  stroke="#000" stroke-width="0.14">E</text>
<line x1="331.20" y1="142.00" x2="331.20" y2="237.70" stroke="#666" stroke-width="1.0" />
<line x1="331.20" y1="237.70" x2="532.20" y2="237.70" stroke="#666" stroke-width="1.0" />
<text x="323.30" y="240.08" font-family="'Liberation Serif', serif" font-size="7.0" font-weight="bold" text-anchor="end" fill="#000"  stroke="#000" stroke-width="0.14">300</text>
<line x1="331.20" y1="237.70" x2="333.00" y2="237.70" stroke="#666" stroke-width="0.7" />
<text x="323.30" y="220.94" font-family="'Liberation Serif', serif" font-size="7.0" font-weight="bold" text-anchor="end" fill="#000"  stroke="#000" stroke-width="0.14">350</text>
<line x1="331.20" y1="218.56" x2="333.00" y2="218.56" stroke="#666" stroke-width="0.7" />
<text x="323.30" y="201.80" font-family="'Liberation Serif', serif" font-size="7.0" font-weight="bold" text-anchor="end" fill="#000"  stroke="#000" stroke-width="0.14">400</text>
<line x1="331.20" y1="199.42" x2="333.00" y2="199.42" stroke="#666" stroke-width="0.7" />
<text x="323.30" y="182.66" font-family="'Liberation Serif', serif" font-size="7.0" font-weight="bold" text-anchor="end" fill="#000"  stroke="#000" stroke-width="0.14">450</text>
<line x1="331.20" y1="180.28" x2="333.00" y2="180.28" stroke="#666" stroke-width="0.7" />
<text x="323.30" y="163.52" font-family="'Liberation Serif', serif" font-size="7.0" font-weight="bold" text-anchor="end" fill="#000"  stroke="#000" stroke-width="0.14">500</text>
<line x1="331.20" y1="161.14" x2="333.00" y2="161.14" stroke="#666" stroke-width="0.7" />
<text x="323.30" y="144.38" font-family="'Liberation Serif', serif" font-size="7.0" font-weight="bold" text-anchor="end" fill="#000"  stroke="#000" stroke-width="0.14">550</text>
<line x1="331.20" y1="142.00" x2="333.00" y2="142.00" stroke="#666" stroke-width="0.7" />
<line x1="356.32" y1="237.70" x2="356.32" y2="235.90" stroke="#666" stroke-width="0.7" />
<line x1="381.45" y1="237.70" x2="381.45" y2="235.90" stroke="#666" stroke-width="0.7" />
<line x1="406.58" y1="237.70" x2="406.58" y2="235.90" stroke="#666" stroke-width="0.7" />
<line x1="431.70" y1="237.70" x2="431.70" y2="235.90" stroke="#666" stroke-width="0.7" />
<line x1="456.83" y1="237.70" x2="456.83" y2="235.90" stroke="#666" stroke-width="0.7" />
<line x1="481.95" y1="237.70" x2="481.95" y2="235.90" stroke="#666" stroke-width="0.7" />
<line x1="507.08" y1="237.70" x2="507.08" y2="235.90" stroke="#666" stroke-width="0.7" />
<line x1="532.20" y1="237.70" x2="532.20" y2="235.90" stroke="#666" stroke-width="0.7" />
<text x="343.76" y="247.08" font-family="'Liberation Serif', serif" font-size="6.4" font-weight="bold" text-anchor="middle" fill="#000"  stroke="#000" stroke-width="0.14">0</text>
<text x="368.89" y="247.08" font-family="'Liberation Serif', serif" font-size="6.4" font-weight="bold" text-anchor="middle" fill="#000"  stroke="#000" stroke-width="0.14">1</text>
<text x="394.01" y="247.08" font-family="'Liberation Serif', serif" font-size="6.4" font-weight="bold" text-anchor="middle" fill="#000"  stroke="#000" stroke-width="0.14">2</text>
<text x="419.14" y="247.08" font-family="'Liberation Serif', serif" font-size="6.4" font-weight="bold" text-anchor="middle" fill="#000"  stroke="#000" stroke-width="0.14">4</text>
<text x="444.26" y="247.08" font-family="'Liberation Serif', serif" font-size="6.4" font-weight="bold" text-anchor="middle" fill="#000"  stroke="#000" stroke-width="0.14">8</text>
<text x="469.39" y="247.08" font-family="'Liberation Serif', serif" font-size="6.4" font-weight="bold" text-anchor="middle" fill="#000"  stroke="#000" stroke-width="0.14">12</text>
<text x="494.51" y="247.08" font-family="'Liberation Serif', serif" font-size="6.4" font-weight="bold" text-anchor="middle" fill="#000"  stroke="#000" stroke-width="0.14">24</text>
<text x="519.64" y="247.08" font-family="'Liberation Serif', serif" font-size="6.4" font-weight="bold" text-anchor="middle" fill="#000"  stroke="#000" stroke-width="0.14">48</text>
<path d="M343.76,160.76 C347.95,161.49 360.51,164.24 368.89,165.16 C377.26,166.08 385.64,165.73 394.01,166.27 C402.39,166.81 410.76,167.26 419.14,168.41 C427.51,169.57 435.89,171.99 444.26,173.20 C452.64,174.41 461.01,174.72 469.39,175.69 C477.76,176.65 486.14,177.35 494.51,178.98 C502.89,180.61 515.45,184.40 519.64,185.49" stroke="#e31a1c" stroke-width="1.0" fill="none" />
<line x1="343.76" y1="159.56" x2="343.76" y2="161.96" stroke="#e31a1c" stroke-width="0.9" />
<line x1="342.06" y1="159.56" x2="345.46" y2="159.56" stroke="#e31a1c" stroke-width="0.95" />
<line x1="342.06" y1="161.96" x2="345.46" y2="161.96" stroke="#e31a1c" stroke-width="0.95" />
<rect x="342.56" y="159.56" width="2.40" height="2.40" fill="#e31a1c" stroke="none" stroke-width="1" />
<line x1="368.89" y1="163.63" x2="368.89" y2="166.69" stroke="#e31a1c" stroke-width="0.9" />
<line x1="367.19" y1="163.63" x2="370.59" y2="163.63" stroke="#e31a1c" stroke-width="0.95" />
<line x1="367.19" y1="166.69" x2="370.59" y2="166.69" stroke="#e31a1c" stroke-width="0.95" />
<rect x="367.69" y="163.96" width="2.40" height="2.40" fill="#e31a1c" stroke="none" stroke-width="1" />
<line x1="394.01" y1="165.07" x2="394.01" y2="167.47" stroke="#e31a1c" stroke-width="0.9" />
<line x1="392.31" y1="165.07" x2="395.71" y2="165.07" stroke="#e31a1c" stroke-width="0.95" />
<line x1="392.31" y1="167.47" x2="395.71" y2="167.47" stroke="#e31a1c" stroke-width="0.95" />
<rect x="392.81" y="165.07" width="2.40" height="2.40" fill="#e31a1c" stroke="none" stroke-width="1" />
<line x1="419.14" y1="167.21" x2="419.14" y2="169.61" stroke="#e31a1c" stroke-width="0.9" />
<line x1="417.44" y1="167.21" x2="420.84" y2="167.21" stroke="#e31a1c" stroke-width="0.95" />
<line x1="417.44" y1="169.61" x2="420.84" y2="169.61" stroke="#e31a1c" stroke-width="0.95" />
<rect x="417.94" y="167.21" width="2.40" height="2.40" fill="#e31a1c" stroke="none" stroke-width="1" />
<line x1="444.26" y1="170.79" x2="444.26" y2="175.61" stroke="#e31a1c" stroke-width="0.9" />
<line x1="442.56" y1="170.79" x2="445.96" y2="170.79" stroke="#e31a1c" stroke-width="0.95" />
<line x1="442.56" y1="175.61" x2="445.96" y2="175.61" stroke="#e31a1c" stroke-width="0.95" />
<rect x="443.06" y="172.00" width="2.40" height="2.40" fill="#e31a1c" stroke="none" stroke-width="1" />
<line x1="469.39" y1="172.70" x2="469.39" y2="178.67" stroke="#e31a1c" stroke-width="0.9" />
<line x1="467.69" y1="172.70" x2="471.09" y2="172.70" stroke="#e31a1c" stroke-width="0.95" />
<line x1="467.69" y1="178.67" x2="471.09" y2="178.67" stroke="#e31a1c" stroke-width="0.95" />
<rect x="468.19" y="174.49" width="2.40" height="2.40" fill="#e31a1c" stroke="none" stroke-width="1" />
<line x1="494.51" y1="177.18" x2="494.51" y2="180.78" stroke="#e31a1c" stroke-width="0.9" />
<line x1="492.81" y1="177.18" x2="496.21" y2="177.18" stroke="#e31a1c" stroke-width="0.95" />
<line x1="492.81" y1="180.78" x2="496.21" y2="180.78" stroke="#e31a1c" stroke-width="0.95" />
<rect x="493.31" y="177.78" width="2.40" height="2.40" fill="#e31a1c" stroke="none" stroke-width="1" />
<line x1="519.64" y1="183.69" x2="519.64" y2="187.29" stroke="#e31a1c" stroke-width="0.9" />
<line x1="517.94" y1="183.69" x2="521.34" y2="183.69" stroke="#e31a1c" stroke-width="0.95" />
<line x1="517.94" y1="187.29" x2="521.34" y2="187.29" stroke="#e31a1c" stroke-width="0.95" />
<rect x="518.44" y="184.29" width="2.40" height="2.40" fill="#e31a1c" stroke="none" stroke-width="1" />
<text x="431.70" y="256.95" font-family="'Liberation Serif', serif" font-size="6.9" font-weight="bold" text-anchor="middle" fill="#000"  stroke="#000" stroke-width="0.14">Time (h)</text>
<text transform="translate(297.90,194.80) rotate(-90)" x="0" y="2.38" font-family="'Liberation Serif', serif" font-size="7.0" font-weight="bold" text-anchor="middle" fill="#000"  stroke="#000" stroke-width="0.14">Remained SL9 content in a</text>
<text transform="translate(305.30,195.00) rotate(-90)" x="0" y="2.40" font-family="'Liberation Serif', serif" font-size="7.05" font-weight="bold" text-anchor="middle" fill="#000"  stroke="#000" stroke-width="0.14">single-dose formulation (ng)</text>
<text x="289.90" y="276.50" font-family="'Liberation Serif', serif" font-size="9.8" font-weight="bold" text-anchor="start" fill="#000"  stroke="#000" stroke-width="0.14">F</text>
<line x1="328.20" y1="274.70" x2="328.20" y2="372.40" stroke="#666" stroke-width="1.0" />
<line x1="328.20" y1="372.40" x2="522.00" y2="372.40" stroke="#666" stroke-width="1.0" />
<text x="322.90" y="374.78" font-family="'Liberation Serif', serif" font-size="7.0" font-weight="bold" text-anchor="end" fill="#000"  stroke="#000" stroke-width="0.14">50</text>
<line x1="328.20" y1="372.40" x2="330.00" y2="372.40" stroke="#666" stroke-width="0.7" />
<text x="322.90" y="342.21" font-family="'Liberation Serif', serif" font-size="7.0" font-weight="bold" text-anchor="end" fill="#000"  stroke="#000" stroke-width="0.14">60</text>
<line x1="328.20" y1="339.83" x2="330.00" y2="339.83" stroke="#666" stroke-width="0.7" />
<text x="322.90" y="309.65" font-family="'Liberation Serif', serif" font-size="7.0" font-weight="bold" text-anchor="end" fill="#000"  stroke="#000" stroke-width="0.14">70</text>
<line x1="328.20" y1="307.27" x2="330.00" y2="307.27" stroke="#666" stroke-width="0.7" />
<text x="322.90" y="277.08" font-family="'Liberation Serif', serif" font-size="7.0" font-weight="bold" text-anchor="end" fill="#000"  stroke="#000" stroke-width="0.14">80</text>
<line x1="328.20" y1="274.70" x2="330.00" y2="274.70" stroke="#666" stroke-width="0.7" />
<text x="352.43" y="382.14" font-family="'Liberation Serif', serif" font-size="6.0" font-weight="bold" text-anchor="middle" fill="#000"  stroke="#000" stroke-width="0.14">12</text>
<rect x="344.62" y="293.26" width="15.60" height="79.14" fill="#e00000" stroke="#000" stroke-width="0.95" />
<line x1="352.43" y1="292.03" x2="352.43" y2="294.50" stroke="#000" stroke-width="0.8" />
<line x1="350.73" y1="292.03" x2="354.12" y2="292.03" stroke="#000" stroke-width="0.9" />
<line x1="350.73" y1="294.50" x2="354.12" y2="294.50" stroke="#000" stroke-width="0.9" />
<text x="400.88" y="382.14" font-family="'Liberation Serif', serif" font-size="6.0" font-weight="bold" text-anchor="middle" fill="#000"  stroke="#000" stroke-width="0.14">24</text>
<rect x="393.07" y="290.33" width="15.60" height="82.07" fill="#e00000" stroke="#000" stroke-width="0.95" />
<line x1="400.88" y1="289.62" x2="400.88" y2="291.05" stroke="#000" stroke-width="0.8" />
<line x1="399.18" y1="289.62" x2="402.57" y2="289.62" stroke="#000" stroke-width="0.9" />
<line x1="399.18" y1="291.05" x2="402.57" y2="291.05" stroke="#000" stroke-width="0.9" />
<text x="449.32" y="382.14" font-family="'Liberation Serif', serif" font-size="6.0" font-weight="bold" text-anchor="middle" fill="#000"  stroke="#000" stroke-width="0.14">36</text>
<rect x="441.52" y="290.33" width="15.60" height="82.07" fill="#e00000" stroke="#000" stroke-width="0.95" />
<line x1="449.32" y1="288.38" x2="449.32" y2="292.29" stroke="#000" stroke-width="0.8" />
<line x1="447.62" y1="288.38" x2="451.02" y2="288.38" stroke="#000" stroke-width="0.9" />
<line x1="447.62" y1="292.29" x2="451.02" y2="292.29" stroke="#000" stroke-width="0.9" />
<text x="497.77" y="382.14" font-family="'Liberation Serif', serif" font-size="6.0" font-weight="bold" text-anchor="middle" fill="#000"  stroke="#000" stroke-width="0.14">48</text>
<rect x="489.97" y="286.42" width="15.60" height="85.98" fill="#e00000" stroke="#000" stroke-width="0.95" />
<line x1="497.77" y1="285.28" x2="497.77" y2="287.56" stroke="#000" stroke-width="0.8" />
<line x1="496.07" y1="285.28" x2="499.47" y2="285.28" stroke="#000" stroke-width="0.9" />
<line x1="496.07" y1="287.56" x2="499.47" y2="287.56" stroke="#000" stroke-width="0.9" />
<text x="425.30" y="388.78" font-family="'Liberation Serif', serif" font-size="7.0" font-weight="bold" text-anchor="middle" fill="#000"  stroke="#000" stroke-width="0.14">Time (h)</text>
<text transform="translate(307.60,323.50) rotate(-90)" x="0" y="2.45" font-family="'Liberation Serif', serif" font-size="7.2" font-weight="bold" text-anchor="middle" fill="#000"  stroke="#000" stroke-width="0.14">Size (nm)</text>
</g>
</svg>
</body></html>
